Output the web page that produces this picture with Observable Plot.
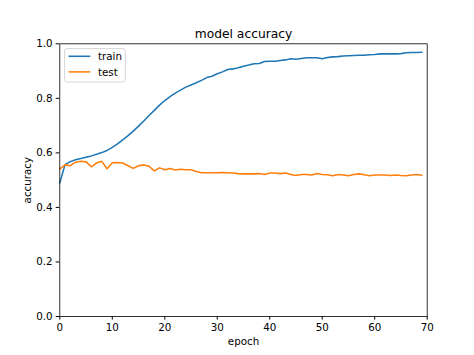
<!DOCTYPE html>
<html>
<head>
<meta charset="utf-8">
<script src="https://cdn.jsdelivr.net/npm/d3@7"></script>
<script src="https://cdn.jsdelivr.net/npm/@observablehq/plot@0.6"></script>
<style>
  html, body { margin: 0; padding: 0; background: #fff; }
</style>
</head>
<body>
<div id="chart"></div>
<script>
const title = "model accuracy";
const xLabel = "epoch";
const yLabel = "accuracy";
const seriesNames = ["train", "test"];
const seriesColors = ["#1f77b4", "#ff7f0e"];
const xTicks = [0, 10, 20, 30, 40, 50, 60, 70];
const yTicks = [0, 0.2, 0.4, 0.6, 0.8, 1.0];

const trainAcc = [
  0.490, 0.557, 0.568, 0.575, 0.579, 0.584, 0.589, 0.595, 0.601, 0.609,
  0.620, 0.633, 0.648, 0.663, 0.680, 0.698, 0.717, 0.737, 0.756, 0.775,
  0.792, 0.806, 0.819, 0.830, 0.841, 0.849, 0.857, 0.866, 0.876, 0.881,
  0.890, 0.897, 0.906, 0.908, 0.912, 0.918, 0.922, 0.927, 0.928, 0.935,
  0.936, 0.936, 0.939, 0.941, 0.945, 0.943, 0.946, 0.949, 0.949, 0.949,
  0.945, 0.950, 0.952, 0.953, 0.955, 0.956, 0.957, 0.958, 0.958, 0.960,
  0.961, 0.963, 0.963, 0.963, 0.963, 0.964, 0.967, 0.968, 0.968, 0.969
];
const testAcc = [
  0.541, 0.556, 0.553, 0.566, 0.569, 0.567, 0.549, 0.563, 0.569, 0.542,
  0.564, 0.565, 0.563, 0.553, 0.543, 0.553, 0.556, 0.551, 0.534, 0.545,
  0.538, 0.543, 0.537, 0.540, 0.538, 0.538, 0.532, 0.527, 0.527, 0.527,
  0.527, 0.528, 0.527, 0.526, 0.524, 0.523, 0.523, 0.523, 0.524, 0.521,
  0.526, 0.526, 0.524, 0.526, 0.521, 0.517, 0.521, 0.521, 0.519, 0.524,
  0.521, 0.520, 0.516, 0.521, 0.519, 0.516, 0.521, 0.523, 0.520, 0.516,
  0.519, 0.519, 0.519, 0.517, 0.519, 0.517, 0.516, 0.519, 0.521, 0.518
];

const rows = [];
[trainAcc, testAcc].forEach((arr, s) => {
  arr.forEach((v, i) => rows.push({epoch: i, acc: v, series: seriesNames[s]}));
});

const font = "DejaVu Sans";

function legendMark(index, scales, values, dimensions) {
  const g = d3.create("svg:g")
    .attr("font-family", font).attr("font-size", 10.3)
    .attr("text-anchor", "start");
  const x0 = dimensions.marginLeft + 5.3, y0 = dimensions.marginTop + 5.3;
  g.append("rect")
    .attr("x", x0).attr("y", y0).attr("width", 60.7).attr("height", 33.4)
    .attr("rx", 2.5).attr("fill", "white").attr("fill-opacity", 0.8)
    .attr("stroke", "#cccccc").attr("stroke-width", 0.8);
  seriesNames.forEach((name, i) => {
    const y = y0 + 7.7 + i * 15.6;
    g.append("line")
      .attr("x1", x0 + 4).attr("x2", x0 + 25.7).attr("y1", y).attr("y2", y)
      .attr("stroke", seriesColors[i]).attr("stroke-width", 1.55);
    g.append("text")
      .attr("x", x0 + 33.4).attr("y", y).attr("dy", "0.35em")
      .attr("text-anchor", "start")
      .attr("fill", "black").text(name);
  });
  return g.node();
}

const chart = Plot.plot({
  width: 474,
  height: 355,
  marginLeft: 59.3,
  marginRight: 47.3,
  marginTop: 43.3,
  marginBottom: 39,
  style: {fontFamily: font, fontSize: "10.3px", color: "black", background: "white"},
  x: {domain: [0, 70], ticks: xTicks, tickSize: 3.6, tickPadding: 3.6, label: null, tickFormat: d3.format("d")},
  y: {domain: [0, 1], ticks: yTicks, tickSize: 3.6, tickPadding: 3.6, label: null, tickFormat: d3.format(".1f")},
  color: {domain: seriesNames, range: seriesColors},
  marks: [
    Plot.line(rows, {x: "epoch", y: "acc", z: "series", stroke: "series", strokeWidth: 1.55}),
    Plot.frame({stroke: "black", strokeWidth: 0.8}),
    Plot.text([title], {frameAnchor: "top", dy: -6.3, lineAnchor: "bottom", fontSize: 12.3, fill: "black"}),
    Plot.text([xLabel], {frameAnchor: "bottom", dy: 25.7, lineAnchor: "middle", fill: "black"}),
    Plot.text([yLabel], {frameAnchor: "left", dx: -32.3, rotate: -90, lineAnchor: "middle", textAnchor: "middle", fill: "black"}),
    legendMark
  ]
});
document.getElementById("chart").appendChild(chart);
</script>
</body>
</html>
